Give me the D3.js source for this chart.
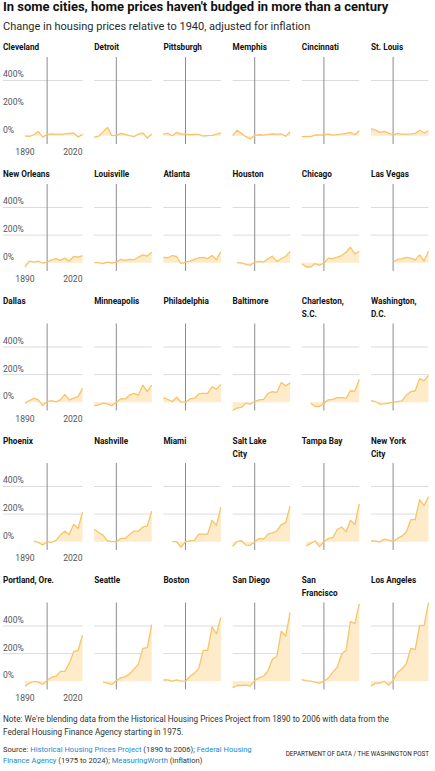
<!DOCTYPE html>
<html lang="en">
<head>
<meta charset="UTF-8">
<title>Home prices relative to 1940</title>
<script src="https://d3js.org/d3.v7.min.js"></script>
<style>
  body { margin: 0; background: #fff; font-family: Roboto, "Noto Sans", Arial, sans-serif; }
  svg { display: block; }
  .title { font-size: 13px; font-weight: 700; fill: #111; }
  .subtitle { font-size: 11px; fill: #2a2a2a; }
  .city { font-size: 8.2px; font-weight: 700; fill: #111; }
  .tick { font-size: 8.6px; fill: #555; }
  .note { font-size: 8.2px; fill: #333; }
  .source { font-size: 7.6px; fill: #333; }
  .source .link { fill: #1a8ad0; }
  .credit { font-size: 6.3px; fill: #222; }
</style>
</head>
<body>
<svg id="chart" width="435" height="771"></svg>
<script>
// decade points, % change vs 1940 after inflation
const years = [1890, 1900, 1910, 1920, 1930, 1940, 1950, 1960, 1970, 1980, 1990, 2000, 2010, 2020];

const cities = [
  "Cleveland", "Detroit", "Pittsburgh", "Memphis", "Cincinnati", "St. Louis",
  "New Orleans", "Louisville", "Atlanta", "Houston", "Chicago", "Las Vegas",
  "Dallas", "Minneapolis", "Philadelphia", "Baltimore", "Charleston,\nS.C.", "Washington,\nD.C.",
  "Phoenix", "Nashville", "Miami", "Salt Lake\nCity", "Tampa Bay", "New York\nCity",
  "Portland, Ore.", "Seattle", "Boston", "San Diego", "San\nFrancisco", "Los Angeles"
];

const cleveland    = [-2, -5, 7, 31, -10, 10, 14, 12, 12, 14, 17, 19, -10, 10];
const detroit      = [-12, -5, 28, 60, 0, 2, 17, 10, 0, -7, 12, 21, -17, 12];
const pittsburgh   = [12, 17, 0, 24, 12, 12, 7, 10, 10, -2, 0, 2, 12, 21];
const memphis      = [0, 40, 17, -7, -24, 2, 7, 5, 10, 14, 12, 14, -5, 29];
const cincinnati   = [-7, -7, -7, 5, 5, 7, 12, 5, 8, 12, 17, 24, 7, 36];
const stLouis      = [52, 40, 24, 31, 19, 5, 17, 12, 12, 14, 17, 40, 21, 36];

const newOrleans   = [-31, 12, 5, 12, -2, 5, 21, 29, 17, 33, 12, 45, 40, 52];
const louisville   = [0, 0, -7, 5, -2, 5, 24, 17, 24, 21, 40, 57, 48, 76];
const atlanta      = [38, 36, 52, 45, -7, 5, 12, 24, 36, 38, 29, 52, 21, 81];
const houston      = [null, 0, -2, -12, -19, 5, 10, 5, 29, 48, 10, 29, 45, 81];
const chicago      = [-7, -31, -31, -7, -19, -2, 33, 29, 40, 52, 76, 112, 64, 83];
const lasVegas     = [null, null, null, null, null, 5, 24, 29, 38, 33, 21, 57, 12, 83];

const dallas       = [-7, 12, 29, 17, -24, 5, 12, 2, 17, 57, 17, 29, 40, 100];
const minneapolis  = [-26, -19, -7, -12, -26, -2, 26, 24, 52, 64, 52, 124, 76, 124];
const philadelphia = [33, 21, 5, 36, 0, 0, 24, 29, 60, 64, 64, 112, 95, 129];
const baltimore    = [-60, -43, -38, -7, -14, 5, 17, 21, 64, 76, 71, 143, 119, 140];
const charleston   = [null, null, -7, -31, -31, -7, 17, 21, 33, 33, 29, 83, 81, 164];
const washington   = [12, 5, -14, -12, -7, 0, 5, 10, 52, 76, 83, 171, 155, 195];

const phoenix      = [null, null, 5, -5, -24, 0, -5, 10, 48, 76, 52, 126, 95, 214];
const nashville    = [90, 67, 48, 7, 0, 0, 24, 24, 52, 76, 76, 107, 114, 221];
const miami        = [null, null, 0, 0, -40, 0, 7, 10, 55, 55, 55, 155, 119, 250];
const saltLake     = [-33, 0, 7, -24, -26, 0, 24, 19, 55, 64, 76, 124, 138, 257];
const tampaBay     = [null, -31, -12, 5, -36, 0, 24, 29, 88, 107, 71, 155, 124, 274];
const newYork      = [5, 5, -2, 19, 12, 0, 24, 40, 71, 160, 160, 305, 262, 326];

const portland     = [-36, -14, -2, -7, -24, 5, 29, 36, 71, 71, 129, 214, 224, 333];
const seattle      = [null, null, -7, -14, -24, 5, 24, 33, 52, 88, 124, 238, 243, 410];
const boston       = [10, 10, 0, 10, 0, 0, 36, 57, 93, 224, 224, 393, 343, 462];
const sanDiego     = [-48, -31, -31, -29, -36, 5, 24, 36, 76, 160, 179, 362, 326, 498];
const sanFrancisco = [12, 5, 0, -7, -14, 0, 24, 64, 100, 195, 224, 433, 417, 560];
const losAngeles   = [-36, -14, -14, 0, -29, 5, 64, 88, 129, 238, 231, 405, 402, 569];

const series = [
  cleveland, detroit, pittsburgh, memphis, cincinnati, stLouis,
  newOrleans, louisville, atlanta, houston, chicago, lasVegas,
  dallas, minneapolis, philadelphia, baltimore, charleston, washington,
  phoenix, nashville, miami, saltLake, tampaBay, newYork,
  portland, seattle, boston, sanDiego, sanFrancisco, losAngeles
];

const yTicks = [0, 200, 400];
const gridTicks = [200, 400];
const yearTicks = [1890, 2020];
const baseYear = 1940;

const svg = d3.select("#chart");
const cols = 6;
const plotW = 57.5, plotH = 87, colStep = 69.2, left0 = 25;

const x = d3.scaleLinear().domain([1890, 2020]).range([0, plotW]);
const y = d3.scaleLinear().domain([-60, 570]).range([plotH, 0]);

const line = d3.line()
  .defined(d => d[1] != null)
  .x(d => x(d[0]))
  .y(d => y(d[1]));

const area = d3.area()
  .defined(d => d[1] != null)
  .x(d => x(d[0]))
  .y0(y(0))
  .y1(d => y(d[1]));

// header
svg.append("text").attr("class", "title").attr("x", 3).attr("y", 11)
  .text("In some cities, home prices haven't budged in more than a century");
svg.append("text").attr("class", "subtitle").attr("x", 3).attr("y", 30)
  .text("Change in housing prices relative to 1940, adjusted for inflation");

let rowTop = 42;
for (let r = 0; r < cities.length / cols; r++) {
  const rowNames = cities.slice(r * cols, r * cols + cols);
  const lines = d3.max(rowNames, n => n.split("\n").length);
  const plotTop = rowTop + 2.5 + 12.5 * lines;

  rowNames.forEach((name, c) => {
    const i = r * cols + c;
    const g = svg.append("g")
      .attr("transform", `translate(${left0 + c * colStep},${plotTop})`);
    const gridLeft = c === 0 ? 3 - left0 : 0;

    // city name
    const label = svg.append("text").attr("class", "city")
      .attr("x", c === 0 ? 3 : left0 + c * colStep)
      .attr("y", rowTop + 8);
    name.split("\n").forEach((part, k) => {
      label.append("tspan")
        .attr("x", c === 0 ? 3 : left0 + c * colStep)
        .attr("dy", k === 0 ? 0 : 13)
        .text(part);
    });

    // the top row of the original has no 200% rule
    g.selectAll(".grid")
      .data(r === 0 ? gridTicks.filter(t => t !== 200) : gridTicks)
      .enter().append("line")
      .attr("x1", gridLeft).attr("x2", plotW)
      .attr("y1", d => y(d)).attr("y2", d => y(d))
      .attr("stroke", "#dcdcdc").attr("stroke-width", 1);

    const pts = years.map((yr, k) => [yr, series[i][k]]);

    g.append("path")
      .attr("d", area(pts))
      .attr("fill", "#fdebc9");

    g.append("line")
      .attr("x1", x(baseYear)).attr("x2", x(baseYear))
      .attr("y1", 0).attr("y2", plotH)
      .attr("stroke", "#8c8c8c").attr("stroke-width", 1);

    g.append("path")
      .attr("d", line(pts))
      .attr("fill", "none")
      .attr("stroke", "#f8c469")
      .attr("stroke-width", 1.3)
      .attr("stroke-linejoin", "round");

    if (c === 0) {
      g.selectAll(".ylab")
        .data(yTicks)
        .enter().append("text")
        .attr("class", "tick")
        .attr("x", gridLeft)
        .attr("y", d => y(d) - 3)
        .text(d => d + "%");

      g.selectAll(".xlab")
        .data(yearTicks)
        .enter().append("text")
        .attr("class", "tick")
        .attr("x", d => x(d))
        .attr("y", plotH + 11)
        .attr("text-anchor", (d, k) => k === 0 ? "middle" : "end")
        .text(d => d);
    }
  });

  rowTop = plotTop + plotH + 25;
}

// footer
const note = svg.append("text").attr("class", "note").attr("x", 3).attr("y", 722);
note.append("tspan").attr("x", 3)
  .text("Note: We're blending data from the Historical Housing Prices Project from 1890 to 2006 with data from the");
note.append("tspan").attr("x", 3).attr("dy", 13)
  .text("Federal Housing Finance Agency starting in 1975.");

const src = svg.append("text").attr("class", "source").attr("x", 3).attr("y", 752);
src.append("tspan").text("Source: ");
src.append("tspan").attr("class", "link").text("Historical Housing Prices Project");
src.append("tspan").text(" (1890 to 2006); ");
src.append("tspan").attr("class", "link").text("Federal Housing");
src.append("tspan").attr("class", "link").attr("x", 3).attr("dy", 11).text("Finance Agency");
src.append("tspan").text(" (1975 to 2024); ");
src.append("tspan").attr("class", "link").text("MeasuringWorth");
src.append("tspan").text(" (inflation)");

svg.append("text").attr("class", "credit")
  .attr("x", 429).attr("y", 755.5)
  .attr("text-anchor", "end")
  .text("DEPARTMENT OF DATA / THE WASHINGTON POST");
</script>
</body>
</html>
